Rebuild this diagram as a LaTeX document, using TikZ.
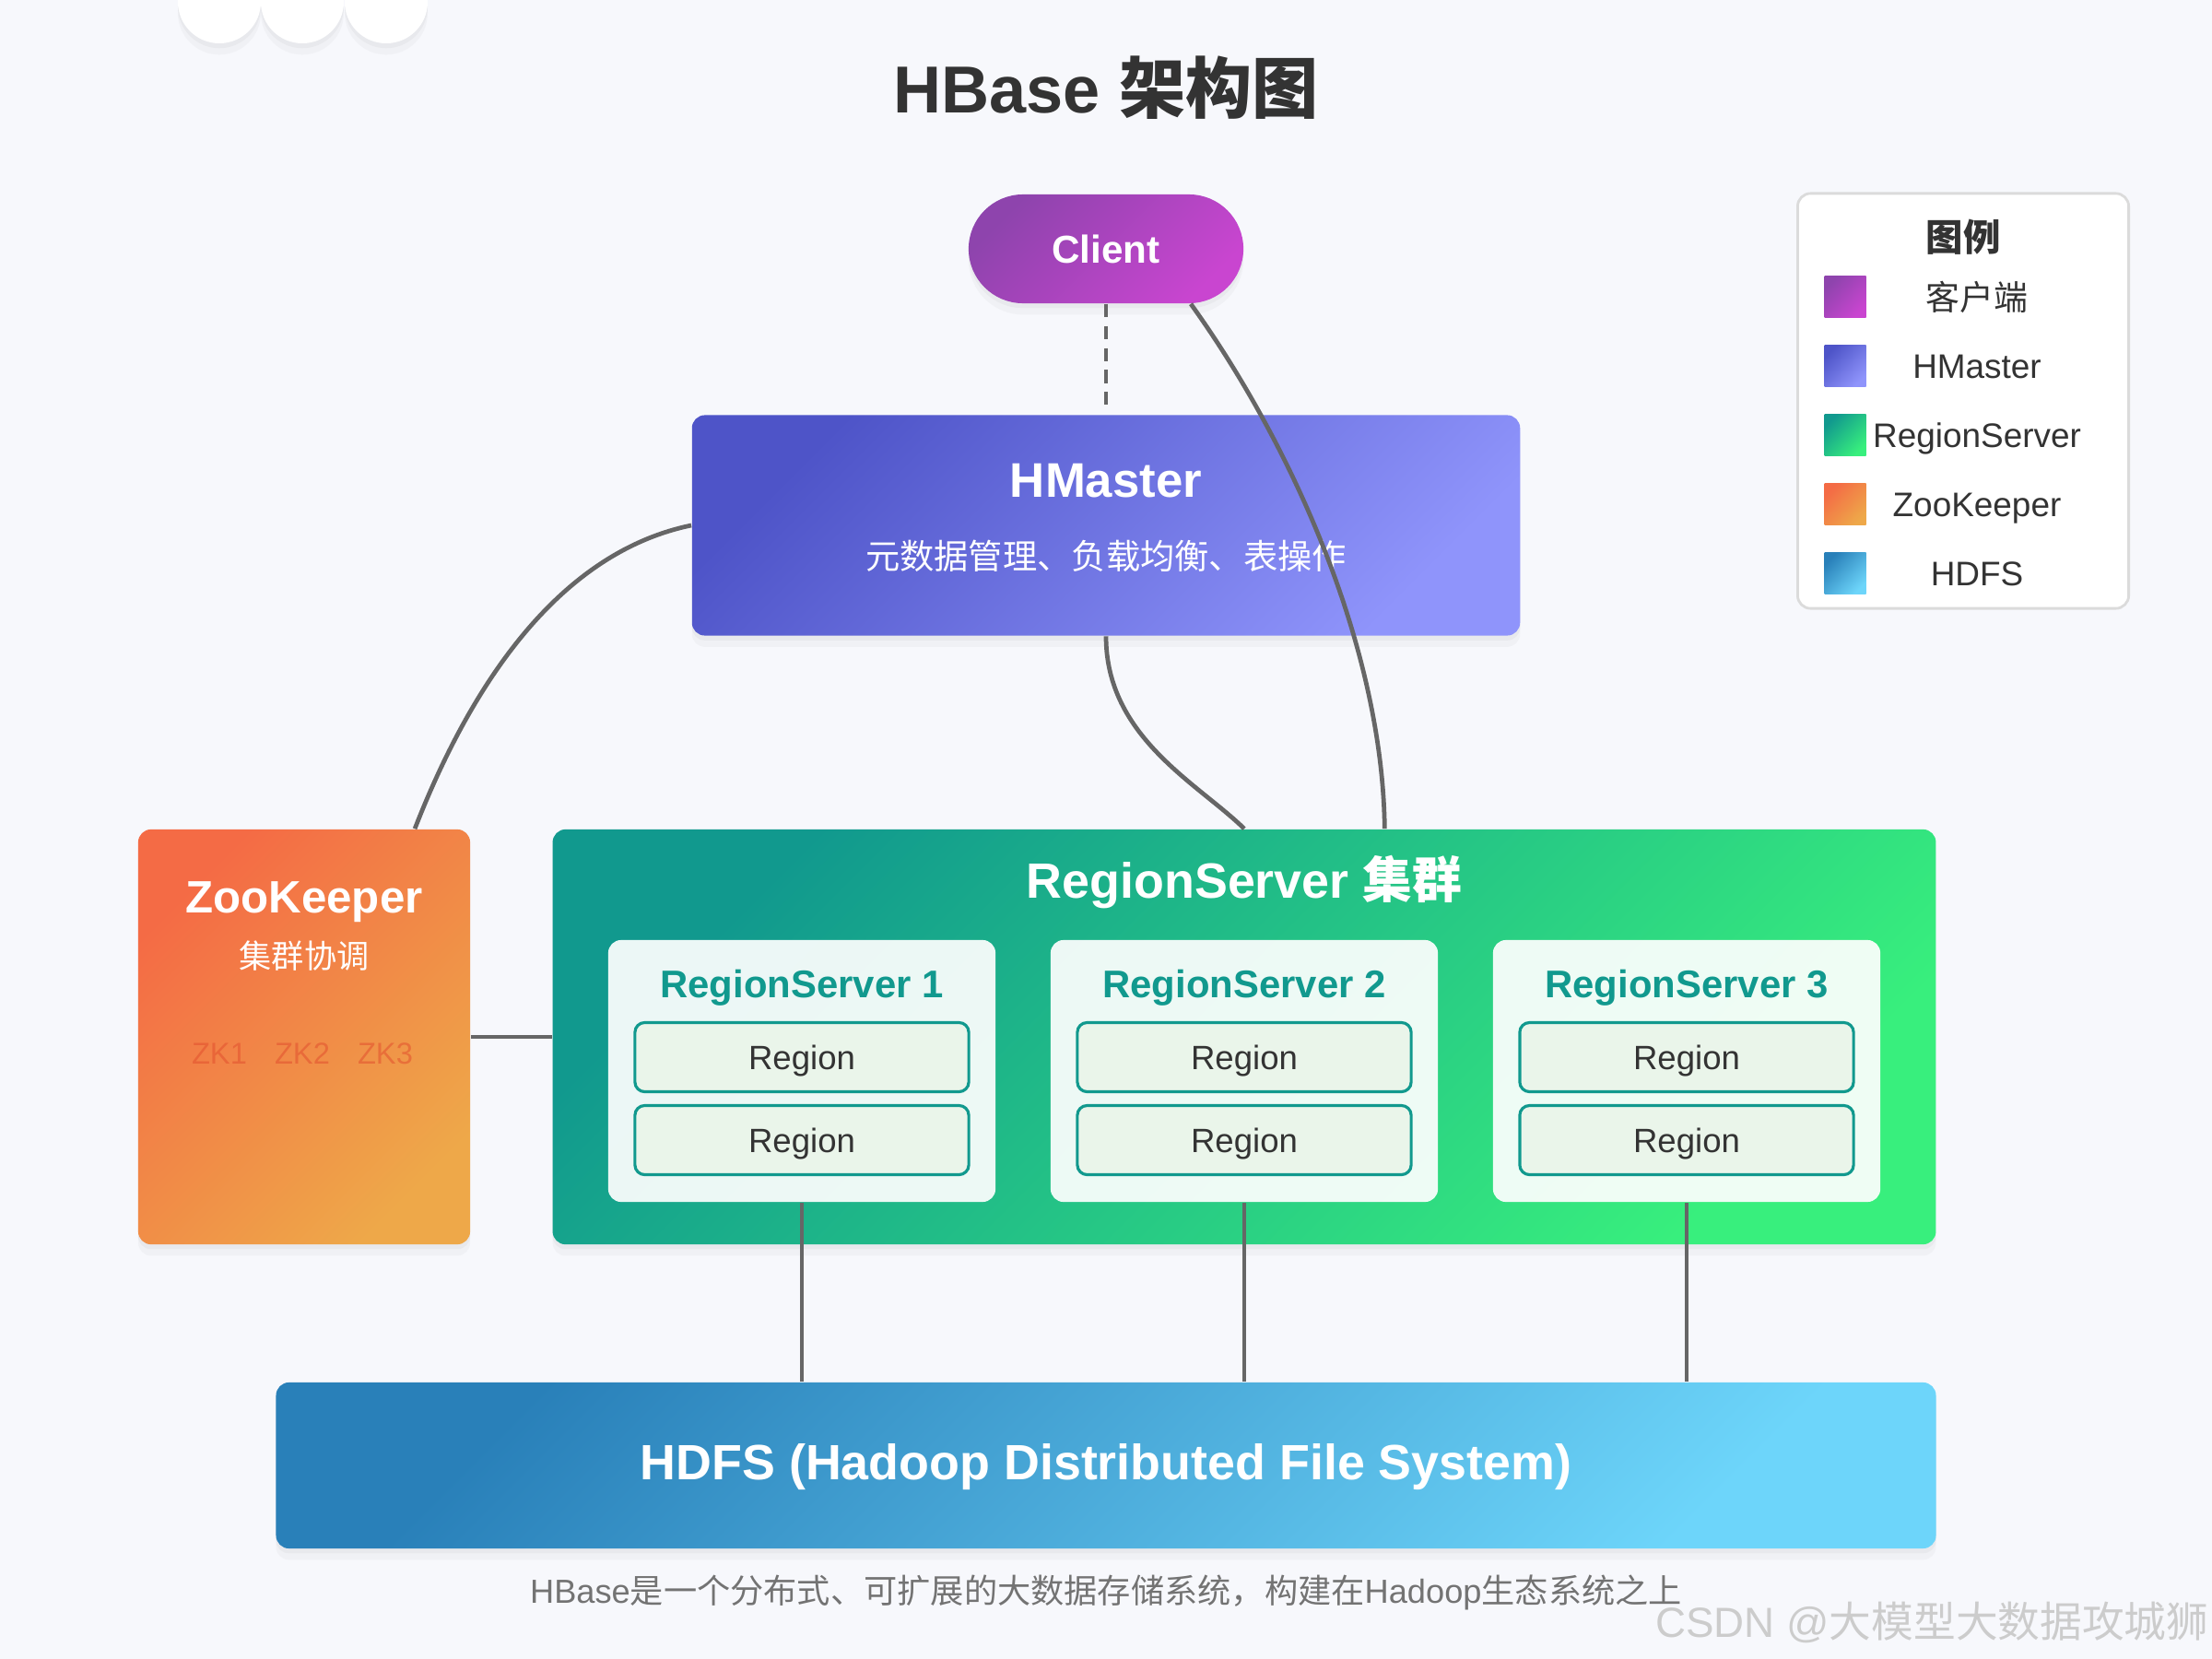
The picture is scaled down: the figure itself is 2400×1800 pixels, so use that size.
\documentclass[tikz,border=0pt]{standalone}
\usepackage{fontspec}
\setmainfont{Liberation Sans}
\newfontfamily\cjk{Noto Sans CJK SC}
\usepackage{tikz}
\usetikzlibrary{shadows}
\definecolor{bgpage}{HTML}{F7F8FC}
\definecolor{linkgray}{HTML}{666666}
\definecolor{textdark}{HTML}{333333}
\definecolor{clientA}{HTML}{8E44AD}
\definecolor{clientB}{HTML}{C945D0}
\definecolor{masterA}{HTML}{4E54C8}
\definecolor{masterB}{HTML}{8F94FB}
\definecolor{rsA}{HTML}{11998E}
\definecolor{rsB}{HTML}{38EF7D}
\definecolor{zkA}{HTML}{F46B45}
\definecolor{zkB}{HTML}{EEA849}
\definecolor{zktext}{HTML}{E2502E}
\definecolor{hdfsA}{HTML}{2980B9}
\definecolor{hdfsB}{HTML}{6DD5FA}
\definecolor{regionfill}{HTML}{EAF5EA}
\tikzset{
  hb_node/.style = {align=center, inner sep=0pt, text centered},
  hb_shadow/.style = {drop shadow={shadow xshift=0pt, shadow yshift=-1.5pt, opacity=0.07},
    drop shadow={shadow xshift=0pt, shadow yshift=-3.5pt, opacity=0.05}},% soft drop shadow
  hb_box/.style = {hb_node, rectangle, rounded corners=4pt, hb_shadow},
  hb_client/.style = {hb_box, rounded corners=0.59cm, minimum width=2.98cm,
    minimum height=1.18cm, top color=clientA, bottom color=clientB, shading angle=45},
  hb_master/.style = {hb_box, minimum width=8.98cm, minimum height=2.39cm,
    top color=masterA, bottom color=masterB, shading angle=45},
  hb_zk/.style = {hb_box, minimum width=3.6cm, minimum height=4.5cm,
    top color=zkA, bottom color=zkB, shading angle=45},
  hb_cluster/.style = {hb_box, minimum width=15cm, minimum height=4.5cm,
    top color=rsA, bottom color=rsB, shading angle=45},
  hb_rs/.style = {hb_node, rectangle, rounded corners=4pt, fill=white, fill opacity=0.92,
    minimum width=4.2cm, minimum height=2.84cm},
  hb_region/.style = {hb_node, rectangle, rounded corners=3pt, fill=regionfill, draw=rsA,
    line width=0.9pt, minimum width=3.62cm, minimum height=0.75cm, text depth=0pt,
    text=textdark, font=\fontsize{10.4}{12}\selectfont},
  hb_hdfs/.style = {hb_box, minimum width=18cm, minimum height=1.8cm,
    top color=hdfsA, bottom color=hdfsB, shading angle=45},
  hb_legend/.style = {hb_node, rectangle, rounded corners=4pt, fill=white, draw=black!14,
    line width=0.8pt, minimum width=3.59cm, minimum height=4.5cm},
  hb_key/.style = {hb_node, rectangle, minimum size=0.45cm, shading angle=45},
  hb_keytext/.style = {hb_node, anchor=base, text=textdark, font=\fontsize{10.5}{12}\selectfont},
  hb_white/.style = {hb_node, text=white},
  hb_zkitem/.style = {hb_node, text=zktext, text opacity=0.55, font=\fontsize{9.3}{11}\selectfont},
  hb_link/.style = {draw=linkgray, line width=1.35pt},
  hb_dash/.style = {hb_link, dash pattern=on 4pt off 2.8pt},
}

\begin{document}
\begin{tikzpicture}[x=0.01cm, y=-0.01cm]
\useasboundingbox (0,0) rectangle (2400,1800);
\fill[bgpage] (0,0) rectangle (2400,1800);
\fill[white, hb_shadow] (238,2) circle[radius=0.45cm];
\fill[white, hb_shadow] (328,2) circle[radius=0.45cm];
\fill[white, hb_shadow] (419,2) circle[radius=0.45cm];

\node[hb_node, text=textdark, font=\fontsize{20.5}{24}\selectfont\bfseries] (title) at (1200,95)
  {HBase {\cjk 架构图}};

% client and master
\node[hb_client] (client) at (1200,270) {};
\node[hb_white, font=\fontsize{12}{14}\selectfont\bfseries] (clientlbl) at (1200,270) {Client};
\node[hb_master] (hmaster) at (1200,570) {};
\node[hb_white, font=\fontsize{15}{18}\selectfont\bfseries] (mtitle) at (1200,522) {HMaster};
\node[hb_white, font=\cjk\fontsize{10.6}{13}\selectfont] (msub) at (1200,603)
  {元数据管理、负载均衡、表操作};

% zookeeper
\node[hb_zk] (zk) at (330,1125) {};
\node[hb_white, anchor=base, font=\fontsize{14}{16}\selectfont\bfseries] (zktitle) at (330,990) {ZooKeeper};
\node[hb_white, font=\cjk\fontsize{10}{12}\selectfont] (zksub) at (330,1037) {集群协调};
\node[hb_zkitem] (zk1) at (238,1143) {ZK1};
\node[hb_zkitem] (zk2) at (328,1143) {ZK2};
\node[hb_zkitem] (zk3) at (418,1143) {ZK3};

% region servers
\node[hb_cluster] (cluster) at (1350,1125) {};
\node[hb_white, anchor=base, font=\fontsize{15.3}{18}\selectfont\bfseries] (ctitle) at (1350,974)
  {RegionServer {\cjk 集群}};
\node[hb_rs] (rs1) at (870,1162) {};
\node[hb_rs] (rs2) at (1350,1162) {};
\node[hb_rs] (rs3) at (1830,1162) {};
\node[hb_node, anchor=base, text=rsA, font=\fontsize{11.9}{14}\selectfont\bfseries] (rs1t) at (870,1082) {RegionServer 1};
\node[hb_node, anchor=base, text=rsA, font=\fontsize{11.9}{14}\selectfont\bfseries] (rs2t) at (1350,1082) {RegionServer 2};
\node[hb_node, anchor=base, text=rsA, font=\fontsize{11.9}{14}\selectfont\bfseries] (rs3t) at (1830,1082) {RegionServer 3};
\node[hb_region] (r1a) at (870,1147) {Region};
\node[hb_region] (r1b) at (870,1237) {Region};
\node[hb_region] (r2a) at (1350,1147) {Region};
\node[hb_region] (r2b) at (1350,1237) {Region};
\node[hb_region] (r3a) at (1830,1147) {Region};
\node[hb_region] (r3b) at (1830,1237) {Region};

% storage
\node[hb_hdfs] (hdfs) at (1200,1590) {};
\node[hb_white, anchor=base, font=\fontsize{15.3}{18}\selectfont\bfseries] (hdfslbl) at (1200,1605)
  {HDFS (Hadoop Distributed File System)};

% legend
\node[hb_legend] (legend) at (2130,435) {};
\node[hb_node, text=textdark, font=\cjk\fontsize{11.5}{13}\selectfont\bfseries] (legtitle) at (2130,257) {图例};
\node[hb_key, top color=clientA, bottom color=clientB, shading angle=45] (key1) at (2002,322) {};
\node[hb_key, top color=masterA, bottom color=masterB, shading angle=45] (key2) at (2002,397) {};
\node[hb_key, top color=rsA, bottom color=rsB, shading angle=45] (key3) at (2002,472) {};
\node[hb_key, top color=zkA, bottom color=zkB, shading angle=45] (key4) at (2002,547) {};
\node[hb_key, top color=hdfsA, bottom color=hdfsB, shading angle=45] (key5) at (2002,622) {};
\node[hb_keytext, font=\cjk\fontsize{10.5}{12}\selectfont] (keyt1) at (2145,336) {客户端};
\node[hb_keytext] (keyt2) at (2145,410) {HMaster};
\node[hb_keytext] (keyt3) at (2145,485) {RegionServer};
\node[hb_keytext] (keyt4) at (2145,560) {ZooKeeper};
\node[hb_keytext] (keyt5) at (2145,635) {HDFS};

% connections
\draw[hb_dash, shorten >=3pt] (client.south) -- (hmaster.north);
\draw[hb_link] (client.-33.2) .. controls (1400,480) and (1500,700) .. (cluster.56.31);
\draw[hb_link] (hmaster.west) .. controls (605,600) and (510,745) .. (zk.62);
\draw[hb_link] (hmaster.south) .. controls (1200,800) and (1300,850) .. (cluster.north);
\draw[hb_link] (zk.east) -- (cluster.west);
\draw[hb_link] (rs1.south) -- (rs1.south |- hdfs.north);
\draw[hb_link] (rs2.south) -- (rs2.south |- hdfs.north);
\draw[hb_link] (rs3.south) -- (rs3.south |- hdfs.north);

\node[hb_node, text=black!55, font=\fontsize{10.3}{12}\selectfont] (caption) at (1200,1728)
  {HBase{\cjk 是一个分布式、可扩展的大数据存储系统，构建在}Hadoop{\cjk 生态系统之上}};
\node[hb_node, anchor=east, text=black!20, font=\fontsize{13}{16}\selectfont] (mark) at (2397,1760)
  {CSDN @{\cjk 大模型大数据攻城狮}};
\end{tikzpicture}
\end{document}
